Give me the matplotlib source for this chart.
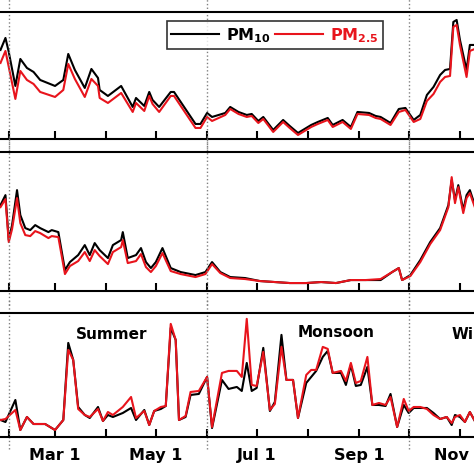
import matplotlib
matplotlib.use('Agg')
import matplotlib.pyplot as plt

# day of year (Jan 1 = 0)
top_days = [26, 29, 31, 35, 38, 42, 46, 50, 59, 64, 67, 71, 77, 81, 85, 86, 91, 99, 106, 108,
            113, 116, 118, 122, 129, 131, 144, 147, 151, 154, 162, 165, 170, 175, 178, 182, 185, 191, 197, 201,
            206, 214, 218, 224, 227, 233, 238, 242, 249, 253, 256, 262, 267, 271, 276, 280, 284, 288, 292, 295,
            298, 300, 302, 304, 308, 310, 313]
top_pm10 = [89, 101, 87, 53, 80, 71, 67, 59, 53, 59, 85, 69, 51, 70, 61, 49, 43, 53, 32, 41,
            33, 47, 39, 32, 47, 47, 15, 15, 26, 22, 26, 32, 27, 24, 25, 18, 22, 9, 19, 13,
            6, 14, 17, 21, 14, 19, 12, 27, 26, 23, 22, 16, 30, 31, 19, 24, 44, 52, 64, 69,
            70, 117, 119, 99, 69, 94, 94]
top_pm25 = [76, 88, 72, 40, 68, 59, 55, 47, 42, 49, 75, 60, 42, 60, 53, 41, 36, 46, 27, 36,
            28, 43, 35, 27, 43, 43, 11, 11, 22, 18, 24, 30, 25, 22, 23, 16, 20, 7, 17, 11,
            4, 12, 15, 19, 12, 17, 10, 25, 24, 21, 20, 14, 27, 29, 17, 20, 38, 45, 57, 62,
            63, 112, 114, 94, 62, 88, 90]

mid_days = [26, 29, 31, 33, 36, 38, 41, 44, 47, 50, 55, 57, 61, 65, 68, 73, 77, 80, 83, 86,
            91, 94, 99, 100, 103, 108, 111, 114, 117, 120, 124, 129, 135, 144, 150, 154, 159, 165, 174, 183,
            192, 201, 211, 220, 229, 238, 247, 256, 263, 267, 269, 274, 280, 286, 292, 297, 299, 301, 303, 306,
            308, 310, 313]
mid_pm10 = [86, 96, 51, 66, 101, 76, 63, 61, 66, 63, 59, 61, 59, 21, 29, 36, 46, 36, 48, 41,
            33, 46, 51, 59, 33, 36, 43, 29, 23, 29, 43, 23, 19, 16, 19, 29, 19, 14, 13, 10,
            9, 8, 8, 9, 8, 11, 11, 11, 19, 23, 11, 16, 31, 49, 63, 86, 111, 91, 106, 81,
            96, 101, 86]
mid_pm25 = [84, 92, 49, 62, 93, 68, 56, 55, 60, 58, 53, 55, 54, 17, 25, 30, 39, 30, 41, 35,
            27, 39, 44, 51, 28, 30, 37, 24, 19, 25, 38, 20, 17, 14, 17, 27, 18, 13, 12, 10,
            9, 8, 8, 9, 8, 11, 11, 12, 19, 23, 11, 15, 29, 47, 61, 84, 114, 88, 104, 78,
            93, 98, 84]

bot_days = [26, 29, 35, 38, 42, 46, 53, 59, 64, 67, 70, 73, 77, 80, 85, 88, 91, 94, 100, 105,
            108, 113, 116, 119, 123, 126, 129, 132, 134, 138, 141, 146, 151, 154, 160, 164, 169, 172, 175, 178,
            181, 185, 189, 192, 196, 199, 203, 206, 211, 214, 217, 221, 224, 227, 232, 235, 238, 241, 244, 248,
            251, 255, 259, 262, 266, 270, 273, 276, 280, 284, 288, 292, 296, 299, 301, 304, 307, 310, 313]
bot_pm10 = [17, 15, 37, 7, 20, 13, 13, 7, 17, 94, 77, 30, 22, 19, 30, 16, 22, 20, 24, 29,
            17, 27, 12, 26, 28, 31, 109, 97, 17, 20, 42, 43, 60, 9, 57, 48, 50, 46, 74, 46,
            49, 89, 26, 35, 102, 57, 57, 19, 54, 60, 66, 80, 86, 64, 64, 52, 72, 51, 52, 70,
            32, 32, 31, 43, 10, 32, 24, 29, 29, 29, 24, 18, 20, 12, 22, 20, 15, 25, 16]
bot_pm25 = [17, 18, 27, 7, 20, 13, 13, 7, 17, 87, 77, 28, 22, 20, 28, 16, 25, 22, 30, 40,
            19, 26, 12, 26, 30, 31, 113, 97, 17, 21, 45, 46, 60, 10, 64, 66, 66, 60, 118, 52,
            51, 85, 27, 33, 90, 57, 57, 19, 62, 67, 67, 90, 88, 64, 66, 56, 74, 54, 56, 80,
            32, 34, 32, 40, 10, 38, 26, 30, 30, 28, 22, 18, 20, 14, 20, 22, 15, 25, 16]

month_starts = [31, 59, 90, 120, 151, 181, 212, 243, 273, 304]
major_ticks = [59, 120, 181, 243, 304]
major_labels = ['Mar 1', 'May 1', 'Jul 1', 'Sep 1', 'Nov 1']
season_lines = [31, 151, 273]

fig = plt.figure(figsize=(4.74, 4.74), dpi=100)
positions = [[0, 0.7068, 1, 0.268], [0, 0.386, 1, 0.293], [0, 0.078, 1, 0.262]]
ylims = [127, 139, 124]
panels = [(top_days, top_pm10, top_pm25), (mid_days, mid_pm10, mid_pm25), (bot_days, bot_pm10, bot_pm25)]

axes = []
for pos, ylim, (d, a, b) in zip(positions, ylims, panels):
    ax = fig.add_axes(pos)
    ax.plot(d, a, color='black', lw=1.5, label='PM$_{\\mathbf{10}}$')
    ax.plot(d, b, color='#e8141c', lw=1.5, label='PM$_{\\mathbf{2.5}}$')
    ax.set_xlim(25.7, 312.5)
    ax.set_ylim(0, ylim)
    for s in ['left', 'right']:
        ax.spines[s].set_visible(False)
    for s in ['top', 'bottom']:
        ax.spines[s].set_linewidth(1.5)
    ax.set_yticks([])
    ax.set_xticks(major_ticks)
    ax.set_xticks([m for m in month_starts if m not in major_ticks], minor=True)
    ax.tick_params(axis='x', which='both', direction='in', length=6, width=1.5)
    ax.set_xticklabels([])
    for x in season_lines:
        ax.axvline(x, ymin=-0.1, ymax=1.1, color='gray', ls=':', lw=1, clip_on=False)
    axes.append(ax)

axes[2].set_xticklabels(major_labels, fontsize=11.5, fontweight='bold')
axes[2].tick_params(axis='x', pad=8)

leg = axes[0].legend(loc='upper center', bbox_to_anchor=(0.58, 0.99), ncol=2, frameon=True,
                     fancybox=False, edgecolor='black', handlelength=3.0, columnspacing=0.3,
                     handletextpad=0.4, borderpad=0.3,
                     prop={'weight': 'bold', 'size': 11.5})
leg.get_frame().set_linewidth(1.2)
leg.get_texts()[1].set_color('#e8141c')

axes[2].text(93, 102, 'Summer', fontsize=11, fontweight='bold', ha='center', va='center')
axes[2].text(229, 104, 'Monsoon', fontsize=11, fontweight='bold', ha='center', va='center')
axes[2].text(299, 102, 'Winter', fontsize=11, fontweight='bold', ha='left', va='center', clip_on=False)

fig.savefig('out.png', dpi=100)
